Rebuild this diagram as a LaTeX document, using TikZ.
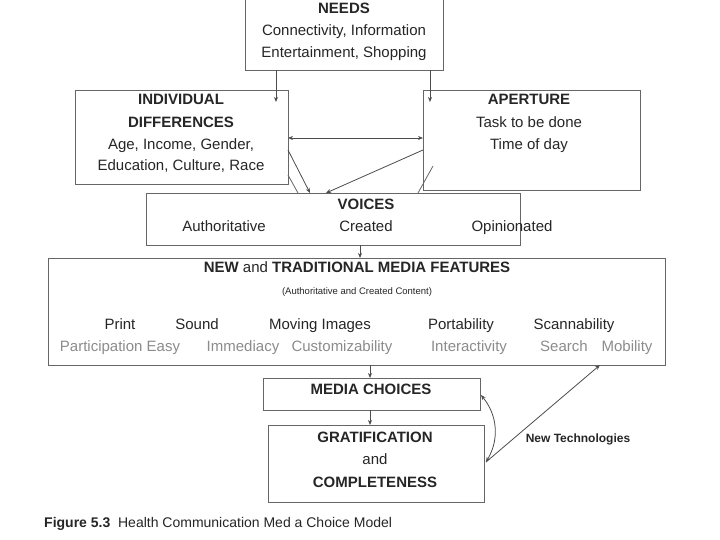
\documentclass[tikz,border=0pt]{standalone}
\usepackage{fontspec}
\setmainfont{Liberation Sans}
\usetikzlibrary{arrows.meta}
\begin{document}
\begin{tikzpicture}[x=1pt,y=-1pt,
  box/.style={draw=black!60,line width=0.9pt,fill=white},
  txt/.style={inner sep=0pt,text height=9pt,text depth=5pt,font=\fontsize{15}{17}\selectfont,text=black!85},
  grey/.style={txt,text=black!45},
  arr/.style={-{Stealth[length=5pt,width=4pt]},black!70,line width=0.8pt},
  ln/.style={black!60,line width=0.8pt}]
\useasboundingbox[fill=white] (0,0) rectangle (720,540);
\draw[box] (245,-5) rectangle (443,70);
\node[txt] (n1) at (344,12) {\textbf{NEEDS}};
\node[txt] (n2) at (344,34) {Connectivity, Information};
\node[txt] (n3) at (344,56) {Entertainment, Shopping};
\draw[box] (75,90) rectangle (288,184);
\node[txt] (i1) at (181,103) {\textbf{INDIVIDUAL}};
\node[txt] (i1b) at (181,126) {\textbf{DIFFERENCES}};
\node[txt] (i2) at (181,148) {Age, Income, Gender,};
\node[txt] (i3) at (181,169) {Education, Culture, Race};
\draw[box] (423,90) rectangle (640,190);
\node[txt] (a1) at (529,103) {\textbf{APERTURE}};
\node[txt] (a2) at (529,126) {Task to be done};
\node[txt] (a3) at (529,148) {Time of day};
\draw[box] (146,193) rectangle (520,245);
\node[txt] (v1) at (366,208) {\textbf{VOICES}};
\node[txt] (v2) at (224,229) {Authoritative};
\node[txt] (v3) at (366,229) {Created};
\node[txt] (v4) at (512,229) {Opinionated};
\draw[box] (48,258) rectangle (665,365);
\node[txt] (f1) at (357,270) {\textbf{NEW} and \textbf{TRADITIONAL MEDIA FEATURES}};
\node[txt,font=\fontsize{9.5}{11}\selectfont] (f2) at (357,292) {(Authoritative and Created Content)};
\node[txt] (p1) at (120,327) {Print};
\node[txt] (p2) at (197,327) {Sound};
\node[txt] (p3) at (320,327) {Moving Images};
\node[txt] (p4) at (461,327) {Portability};
\node[txt] (p5) at (574,327) {Scannability};
\node[grey] (g1) at (120,349) {Participation Easy};
\node[grey] (g2) at (243,349) {Immediacy};
\node[grey] (g3) at (342,349) {Customizability};
\node[grey] (g4) at (469,349) {Interactivity};
\node[grey] (g5) at (564,349) {Search};
\node[grey] (g6) at (627,349) {Mobility};
\draw[box] (263,378) rectangle (480,410);
\node[txt] (m1) at (371,392) {\textbf{MEDIA CHOICES}};
\draw[box] (268,425) rectangle (484,502);
\node[txt] (c1) at (375,440) {\textbf{GRATIFICATION}};
\node[txt] (c2) at (375,462) {and};
\node[txt] (c3) at (375,485) {\textbf{COMPLETENESS}};
\node[txt,font=\fontsize{12}{14}\selectfont\bfseries] (nt) at (578,440) {New Technologies};
\node[anchor=west,inner sep=0pt,font=\fontsize{14}{16}\selectfont,text=black!85] (cap) at (44,524) {\textbf{Figure 5.3}\ \ Health Communication Med a Choice Model};
% connectors
\coordinate (e1) at (276,70); \coordinate (e2) at (276,102);
\coordinate (e3) at (430,70); \coordinate (e4) at (430,102);
\draw[arr] (e1) -- (e2);
\draw[arr] (e3) -- (e4);
\coordinate (d1) at (288,138); \coordinate (d2) at (423,138);
\draw[arr,{Stealth[length=5pt,width=4pt]}-{Stealth[length=5pt,width=4pt]}] (d1) -- (d2);
\coordinate (q1) at (288,150); \coordinate (q2) at (310,193);
\coordinate (q3) at (423,150); \coordinate (q4) at (326,193);
\draw[arr] (q1) -- (q2);
\draw[arr] (q3) -- (q4);
\coordinate (r1) at (288,175); \coordinate (r2) at (298,193);
\coordinate (r3) at (433,166); \coordinate (r4) at (418,193);
\draw[ln] (r1) -- (r2);
\draw[ln] (r3) -- (r4);
\coordinate (s1) at (360,245); \coordinate (s2) at (360,258);
\draw[arr] (s1) -- (s2);
\coordinate (t1) at (370,365); \coordinate (t2) at (370,378);
\draw[arr] (t1) -- (t2);
\coordinate (u1) at (370,410); \coordinate (u2) at (370,425);
\draw[arr] (u1) -- (u2);
\coordinate (w1) at (481,395); \coordinate (w2) at (486,462);
\draw[arr,{Stealth[length=5pt,width=4pt]}-{Stealth[length=5pt,width=4pt]}] (w1) to[bend left=35] (w2);
\coordinate (x1) at (600,365);
\draw[arr] (w2) -- (x1);
\end{tikzpicture}
\end{document}
